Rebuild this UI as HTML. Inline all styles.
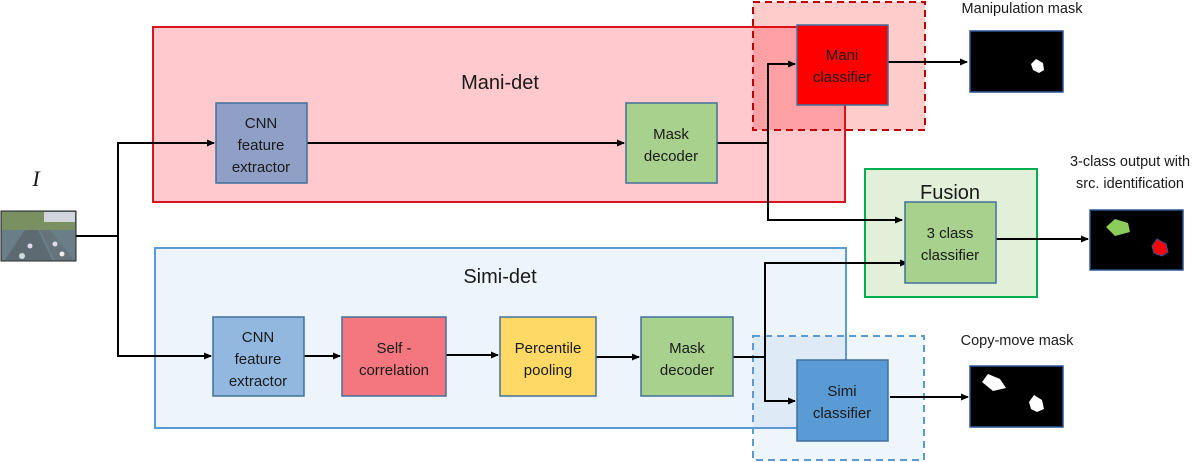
<!DOCTYPE html>
<html><head><meta charset="utf-8"><style>
html,body{margin:0;padding:0;background:#fff;width:1200px;height:462px;overflow:hidden}
text{font-family:"Liberation Sans",sans-serif;fill:#1a1a1a}
</style></head><body>
<svg width="1200" height="462" viewBox="0 0 1200 462" xmlns="http://www.w3.org/2000/svg">
<defs>
<marker id="a" markerWidth="8" markerHeight="8" refX="7" refY="4" orient="auto" markerUnits="userSpaceOnUse"><path d="M0,0.5 L8,4 L0,7.5z" fill="#000"/></marker>
</defs>
<rect x="153" y="27" width="692" height="175" fill="#ffc9cd" stroke="#d8141e" stroke-width="2"/>
<rect x="155" y="248" width="691" height="180" fill="#eef4fb" stroke="#5b9bd5" stroke-width="2"/>
<rect x="865" y="169" width="172" height="128" fill="#e2f0d9" stroke="#00b050" stroke-width="2"/>
<rect x="753" y="2" width="172" height="128" fill="rgba(255,0,0,0.2)" stroke="#c00000" stroke-width="2" stroke-dasharray="7,5"/>
<rect x="753" y="336" width="171" height="124" fill="rgba(91,155,213,0.1)" stroke="#5b9bd5" stroke-width="2" stroke-dasharray="7,5"/>

<text x="500" y="89" font-size="20" text-anchor="middle">Mani-det</text>
<text x="500" y="283" font-size="20" text-anchor="middle">Simi-det</text>
<text x="950" y="199" font-size="20" text-anchor="middle">Fusion</text>

<text x="36" y="186" font-size="22" font-style="italic" text-anchor="middle" style="font-family:'Liberation Serif',serif">I</text>
<rect x="1" y="211" width="75" height="50" fill="#6a7e88" stroke="#222" stroke-width="1"/>
<rect x="2" y="212" width="73" height="18" fill="#7a9060"/>
<rect x="44" y="212" width="31" height="10" fill="#d0d6dc"/>
<polygon points="25,230 38,230 52,260 5,260" fill="#5d6a72"/>
<polygon points="40,230 50,230 74,260 55,260" fill="#66737b"/>
<circle cx="30" cy="246" r="2.5" fill="#dde"/><circle cx="55" cy="244" r="2.5" fill="#dde"/><circle cx="22" cy="256" r="3" fill="#cdd"/><circle cx="62" cy="254" r="2.5" fill="#eee"/>

<g stroke="#000" stroke-width="2" fill="none">
<path d="M76,236 H118 V143 H214" marker-end="url(#a)"/>
<path d="M118,236 V356 H211" marker-end="url(#a)"/>
<path d="M307,143 H624" marker-end="url(#a)"/>
<path d="M717,143 H768 V64 H795" marker-end="url(#a)"/>
<path d="M768,143 V220 H902" marker-end="url(#a)"/>
<path d="M888,62 H967" marker-end="url(#a)"/>
<path d="M996,239 H1088" marker-end="url(#a)"/>
<path d="M304,356 H340" marker-end="url(#a)"/>
<path d="M446,355 H498" marker-end="url(#a)"/>
<path d="M596,357 H639" marker-end="url(#a)"/>
<path d="M733,357 H765 V263 H907" marker-end="url(#a)"/>
<path d="M765,357 V401 H795" marker-end="url(#a)"/>
<path d="M890,397 H968" marker-end="url(#a)"/>
</g>

<g stroke="#41719c" stroke-width="1.5">
<rect x="216" y="103" width="91" height="80" fill="#8f9fc6"/>
<rect x="626" y="103" width="91" height="80" fill="#a9d18e"/>
<rect x="797" y="25" width="91" height="80" fill="#ff0000"/>
<rect x="905" y="202" width="91" height="81" fill="#a9d18e"/>
<rect x="213" y="317" width="91" height="79" fill="#92b8e0"/>
<rect x="342" y="317" width="104" height="79" fill="#f4777f"/>
<rect x="500" y="317" width="96" height="79" fill="#ffd966"/>
<rect x="641" y="317" width="92" height="79" fill="#a9d18e"/>
<rect x="797" y="360" width="91" height="81" fill="#5b9bd5"/>
</g>
<g font-size="15" text-anchor="middle">
<text x="261" y="128">CNN</text><text x="261" y="150">feature</text><text x="261" y="172">extractor</text>
<text x="671" y="139">Mask</text><text x="671" y="161">decoder</text>
<text x="842" y="60">Mani</text><text x="842" y="82">classifier</text>
<text x="950" y="238">3 class</text><text x="950" y="260">classifier</text>
<text x="258" y="342">CNN</text><text x="258" y="364">feature</text><text x="258" y="386">extractor</text>
<text x="394" y="353">Self -</text><text x="394" y="375">correlation</text>
<text x="548" y="353">Percentile</text><text x="548" y="375">pooling</text>
<text x="687" y="353">Mask</text><text x="687" y="375">decoder</text>
<text x="842" y="396">Simi</text><text x="842" y="418">classifier</text>
</g>

<g font-size="14.5" text-anchor="middle">
<text x="1022" y="13">Manipulation mask</text>
<text x="1130" y="166">3-class output with</text>
<text x="1130" y="188">src. identification</text>
<text x="1017" y="345">Copy-move mask</text>
</g>
<rect x="970" y="31" width="93" height="61" fill="#000" stroke="#2f5597" stroke-width="1.5"/>
<polygon points="1031,64 1036,59 1043,63 1044,70 1039,73 1033,70" fill="#fff"/>
<rect x="1090" y="210" width="93" height="60" fill="#000" stroke="#2f5597" stroke-width="1.5"/>
<polygon points="1106,227 1115,219 1128,223 1130,232 1115,236" fill="#8ccc5a"/>
<polygon points="1152,246 1157,239 1166,244 1168,252 1162,256 1154,253" fill="#f00" stroke="#2f5597"/>
<rect x="970" y="366" width="93" height="61" fill="#000" stroke="#2f5597" stroke-width="1.5"/>
<polygon points="982,382 988,374 1000,379 1006,388 993,391" fill="#fff"/>
<polygon points="1029,402 1034,395 1042,400 1044,409 1037,412 1031,409" fill="#fff"/>
</svg>
</body></html>
